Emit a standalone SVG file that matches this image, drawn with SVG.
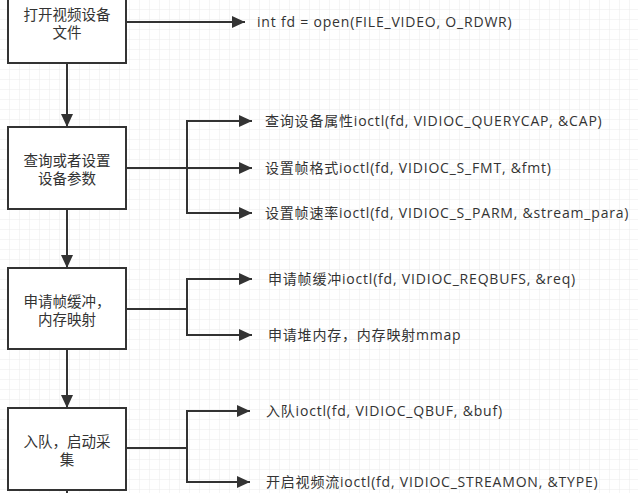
<svg xmlns="http://www.w3.org/2000/svg" width="638" height="493" viewBox="0 0 638 493">
<defs>
<pattern id="g" width="10" height="10" patternUnits="userSpaceOnUse"><path d="M10 0V10H0" fill="none" stroke="#ebebeb" stroke-width="1"/></pattern>
<marker id="a" markerWidth="13" markerHeight="12" refX="13" refY="6" orient="auto" markerUnits="userSpaceOnUse" viewBox="0 0 13 12"><path d="M0 0L13 6L0 12z" fill="#333"/></marker>
<style>
.b{fill:#fff;stroke:#333;stroke-width:2}
.t{font-family:"Open Sans","Noto Sans CJK SC",sans-serif;font-size:14px;fill:#333}
.c{text-anchor:middle;font-size:14.5px}
.r{letter-spacing:0.8px}
.l{fill:none;stroke:#333;stroke-width:2}
</style>
</defs>
<rect width="638" height="493" fill="#fff"/>
<rect width="638" height="493" fill="url(#g)"/>
<g id="n1"><rect class="b" x="8" y="-3" width="118" height="66"/><text class="t c" x="67" y="20">打开视频设备</text><text class="t c" x="67" y="38">文件</text></g>
<g id="n2"><rect class="b" x="8" y="127" width="118" height="82"/><text class="t c" x="67" y="166">查询或者设置</text><text class="t c" x="67" y="184">设备参数</text></g>
<g id="n3"><rect class="b" x="8" y="268" width="118" height="81"/><text class="t c" x="67" y="307">申请帧缓冲，</text><text class="t c" x="67" y="325">内存映射</text></g>
<g id="n4"><rect class="b" x="8" y="408" width="118" height="82"/><text class="t c" x="67" y="447">入队，启动采</text><text class="t c" x="67" y="465">集</text></g>
<g id="labels">
<text class="t r" x="257" y="27">int fd = open(FILE_VIDEO, O_RDWR)</text>
<text class="t r" x="265" y="126">查询设备属性ioctl(fd, VIDIOC_QUERYCAP, &amp;CAP)</text>
<text class="t r" x="265" y="173">设置帧格式ioctl(fd, VIDIOC_S_FMT, &amp;fmt)</text>
<text class="t r" x="265" y="218">设置帧速率ioctl(fd, VIDIOC_S_PARM, &amp;stream_para)</text>
<text class="t r" x="268" y="284">申请帧缓冲ioctl(fd, VIDIOC_REQBUFS, &amp;req)</text>
<text class="t r" x="268" y="340">申请堆内存，内存映射mmap</text>
<text class="t r" x="266" y="416">入队ioctl(fd, VIDIOC_QBUF, &amp;buf)</text>
<text class="t r" x="266" y="487">开启视频流ioctl(fd, VIDIOC_STREAMON, &amp;TYPE)</text>
</g>
<g id="connectors">
<path class="l" d="M126 22H245" marker-end="url(#a)"/>
<path class="l" d="M67 63V127" marker-end="url(#a)"/>
<path class="l" d="M67 209V268" marker-end="url(#a)"/>
<path class="l" d="M67 349V408" marker-end="url(#a)"/>
<path class="l" d="M67 490V493"/>
<path class="l" d="M126 168H252" marker-end="url(#a)"/>
<path class="l" d="M187 168V121H252" marker-end="url(#a)"/>
<path class="l" d="M187 168V213H252" marker-end="url(#a)"/>
<path class="l" d="M126 309H187V279H252" marker-end="url(#a)"/>
<path class="l" d="M187 309V335H252" marker-end="url(#a)"/>
<path class="l" d="M126 448H187V411H250" marker-end="url(#a)"/>
<path class="l" d="M187 448V482H250" marker-end="url(#a)"/>
</g>
</svg>
